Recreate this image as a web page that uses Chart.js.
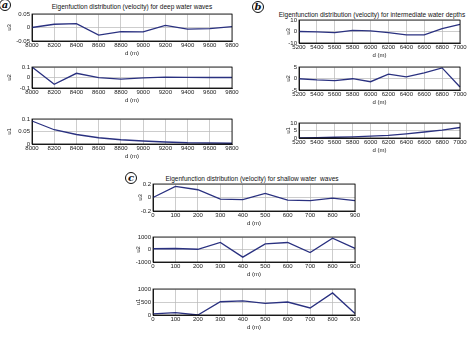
<!DOCTYPE html>
<html>
<head>
<meta charset="utf-8">
<script src="https://cdn.jsdelivr.net/npm/chart.js@4.4.1/dist/chart.umd.min.js"></script>
<style>
  body { margin: 0; background: #fff; width: 474px; height: 337px; position: relative; overflow: hidden; font-family: "Liberation Sans", Arial, sans-serif; }
  canvas { position: absolute; }
  .title { position: absolute; font-size: 6.5px; color: #111; white-space: nowrap; transform: translate(-50%, -50%); }
  .tag { position: absolute; width: 10px; height: 10px; border: 1px solid #111; border-radius: 50%; transform: translate(-50%, -50%);
         font: italic bold 10px "DejaVu Serif", serif; text-align: center; line-height: 9px; color: #111; }
</style>
</head>
<body>
<div class="tag" style="left:5px;top:5px">a</div>
<div class="title" style="left:132px;top:6px">Eigenfuction distribution (velocity) for deep water waves</div>
<div class="tag" style="left:258px;top:7px">b</div>
<div class="title" style="left:372px;top:14px">Eigenfunction distribution (velocity) for intermediate water depths</div>
<div class="tag" style="left:131px;top:178px">c</div>
<div class="title" style="left:252px;top:178px">Eigenfunction distribution (velocity) for shallow water&nbsp; waves</div>

<script>
// depths along the x axis
const deepDepths = ["8000", "8200", "8400", "8600", "8800", "9000", "9200", "9400", "9600", "9800"];
const midDepths = ["5200", "5400", "5600", "5800", "6000", "6200", "6400", "6600", "6800", "7000"];
const shallowDepths = ["0", "100", "200", "300", "400", "500", "600", "700", "800", "900"];

// deep water
const deepU3 = [0, 0.012, 0.014, -0.028, -0.015, -0.016, 0.008, -0.006, -0.004, 0.003];
const deepU2 = [0.1, -0.065, 0.04, -0.002, -0.015, -0.003, 0.003, 0.001, 0, 0];
const deepU1 = [0.092, 0.057, 0.038, 0.025, 0.017, 0.012, 0.008, 0.005, 0.004, 0.003];

// intermediate depths
const midU3 = [0, -0.3, -0.9, 0.9, 0.6, -0.9, -2.9, -2.9, 2.4, 6.2];
const midU2 = [-0.1, -0.6, -0.9, -0.1, -1.4, 1.9, 0.7, 2.4, 4.6, -3.7];
const midU1 = [0.1, 0.3, 0.5, 0.8, 1.2, 1.8, 2.8, 4, 5.3, 7];

// shallow water
const shallowU3 = [0, 0.165, 0.115, -0.025, -0.03, 0.06, -0.04, -0.045, -0.01, -0.045];
const shallowU2 = [60, 80, 20, 560, -610, 450, 560, -250, 900, 90];
const shallowU1 = [40, 90, 0, 510, 540, 450, 500, 270, 850, 60];

// y tick values and their labels
const ticksA1 = [-0.05, 0, 0.05], textA1 = ["-0.05", "0", "0.05"];
const ticksA2 = [-0.1, 0, 0.1], textA2 = ["-0.1", "0", "0.1"];
const ticksA3 = [0, 0.05, 0.1], textA3 = ["0", "0.05", "0.1"];
const ticksB1 = [-10, 0, 10], textB1 = ["-10", "0", "10"];
const ticksB2 = [-5, 0, 5], textB2 = ["-5", "0", "5"];
const ticksB3 = [0, 5, 10], textB3 = ["0", "5", "10"];
const ticksC1 = [-0.2, 0, 0.2], textC1 = ["-0.2", "0", "0.2"];
const ticksC2 = [-1000, 0, 1000], textC2 = ["-1000", "0", "1000"];
const ticksC3 = [0, 500, 1000], textC3 = ["0", "500", "1000"];

const LINE = "#2a3180";
const GRID = "#b8b8b8";
const TXT = "#1a1a1a";
const FS = 6;    // axis text size
const YW = 34;   // y axis band width
const TOP = 6;   // space above plot
const XH = 16;   // x axis band height

// black frame round each plot area
const frame = {
  id: "frame",
  afterDraw(chart) {
    const a = chart.chartArea, c = chart.ctx;
    c.save();
    c.strokeStyle = "#000";
    c.lineWidth = 0.8;
    c.strokeRect(a.left, a.top, a.right - a.left, a.bottom - a.top);
    c.restore();
  }
};

function plot(box, labels, values, ticks, text, yTitle, titleGap) {
  const cv = document.createElement("canvas");
  const w = box.r - box.l + YW + 12;
  const h = box.b - box.t + TOP + XH;
  cv.width = w;
  cv.height = h;
  cv.style.left = (box.l - YW) + "px";
  cv.style.top = (box.t - TOP) + "px";
  document.body.appendChild(cv);

  new Chart(cv, {
    type: "line",
    data: {
      labels: labels,
      datasets: [{
        data: values,
        borderColor: LINE,
        borderWidth: 1.3,
        pointRadius: 0,
        tension: 0,
        fill: false
      }]
    },
    options: {
      responsive: false,
      animation: false,
      layout: { padding: { top: TOP, right: 12, left: 0, bottom: 0 } },
      plugins: { legend: { display: false }, tooltip: { enabled: false } },
      scales: {
        x: {
          type: "category",
          offset: false,
          grid: { color: GRID, lineWidth: 0.7, drawTicks: false },
          border: { color: "#000", width: 0.8 },
          ticks: { font: { size: FS }, color: TXT, padding: 1, maxRotation: 0, autoSkip: false, source: "data" },
          title: { display: true, text: "d (m)", font: { size: FS }, color: TXT, padding: { top: 0, bottom: 0 } },
          afterFit(s) { s.height = XH; s.paddingLeft = 0; s.paddingRight = 0; }
        },
        y: {
          min: ticks[0],
          max: ticks[ticks.length - 1],
          afterBuildTicks(s) { s.ticks = ticks.map(v => ({ value: v })); },
          grid: { color: GRID, lineWidth: 0.7, drawTicks: false },
          border: { color: "#000", width: 0.8 },
          ticks: { font: { size: FS }, color: TXT, padding: 2, autoSkip: false, source: "data",
                   callback: (v, i) => text[i] },
          title: { display: true, text: yTitle, font: { size: FS }, color: TXT,
                   padding: { top: YW - titleGap - 3.6, bottom: 0 } },
          afterFit(s) { s.width = YW; s.paddingTop = 0; s.paddingBottom = 0; }
        }
      }
    },
    plugins: [frame]
  });
}

plot({ l: 32, r: 232, t: 14, b: 41 }, deepDepths, deepU3, ticksA1, textA1, "u3", 23);
plot({ l: 32, r: 232, t: 67, b: 88 }, deepDepths, deepU2, ticksA2, textA2, "u2", 23);
plot({ l: 32, r: 232, t: 119, b: 144 }, deepDepths, deepU1, ticksA3, textA3, "u1", 23);

plot({ l: 299, r: 460, t: 20, b: 43 }, midDepths, midU3, ticksB1, textB1, "u3", 11);
plot({ l: 299, r: 460, t: 67, b: 90 }, midDepths, midU2, ticksB2, textB2, "u2", 11);
plot({ l: 299, r: 460, t: 123, b: 138 }, midDepths, midU1, ticksB3, textB3, "u1", 11);

plot({ l: 153, r: 355, t: 184, b: 211 }, shallowDepths, shallowU3, ticksC1, textC1, "u3", 13);
plot({ l: 153, r: 355, t: 237, b: 262 }, shallowDepths, shallowU2, ticksC2, textC2, "u2", 15);
plot({ l: 153, r: 355, t: 289, b: 315 }, shallowDepths, shallowU1, ticksC3, textC3, "u1", 15);
</script>
</body>
</html>
